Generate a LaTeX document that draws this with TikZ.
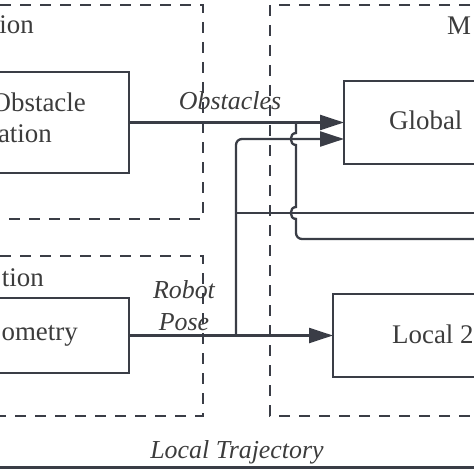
\documentclass[tikz,border=0pt]{standalone}
\usepackage{fontspec}
\setmainfont{Liberation Serif}
\usetikzlibrary{arrows.meta,calc}
\definecolor{lc}{HTML}{3A3D46}
\definecolor{tc}{HTML}{3C3C3C}
\begin{document}
\begin{tikzpicture}[x=1bp,y=-1bp,
  boxnode/.style={draw=lc,line width=2.4bp,inner sep=0,outer sep=0,anchor=north west},
  conn/.style={draw=lc,line width=2.3bp},
  arr/.style={-{Triangle[length=24bp,width=15bp]}},
  dashbox/.style={draw=lc,line width=2.2bp,dash pattern=on 11bp off 9bp},
  lbl/.style={text=tc,inner sep=0,font=\fontsize{27}{31}\selectfont},
  ilbl/.style={text=tc,inner sep=0,font=\fontsize{26}{31}\selectfont\itshape}]
\useasboundingbox (0,0) rectangle (474,474);
\clip (0,0) rectangle (474,474);
% dashed group frames
\draw[dashbox] (-20,5) -- (203,5) -- (203,219) -- (-20,219);
\draw[dashbox] (-20,256) -- (203,256) -- (203,416) -- (-20,416);
\draw[dashbox] (490,5) -- (270,5) -- (270,416) -- (490,416);
\node[lbl,anchor=base east] (tl) at (34,34) {ion};
\node[lbl,anchor=base east] (bl) at (44,286) {tion};
\node[lbl,anchor=base west] (rl) at (447,35) {M};
% boxes
\node[boxnode,minimum width=169bp,minimum height=101bp] (obs) at (-40,72) {};
\node[boxnode,minimum width=169bp,minimum height=75bp] (odom) at (-40,298) {};
\node[boxnode,minimum width=160bp,minimum height=83bp] (global) at (344,81) {};
\node[boxnode,minimum width=170bp,minimum height=83bp] (local) at (333,294) {};
\node[lbl,anchor=base east] (obs1) at (86,112) {Obstacle};
\node[lbl,anchor=base east] (obs2) at (52,143) {ation};
\node[lbl,anchor=base east] (odt) at (78,340) {ometry};
\node[lbl,anchor=base west] (glt) at (389,130) {Global};
\node[lbl,anchor=base west] (lct) at (392,343) {Local 2};
% connectors
\coordinate (j1) at (296,122.5);
\coordinate (j2) at (236,335.5);
\coordinate (j3) at (236,213);
\coordinate (r3) at (490,213);
\coordinate (r4) at (490,239);
\draw[conn,arr] (obs.east) -- (obs.east -| global.west);
\draw[conn,arr] (odom.east) -- (odom.east -| local.west);
\draw[conn,arr,rounded corners=6bp] (j2) |- ($(global.west)+(0,16.5)$);
\draw[conn] (j3) -- (r3);
\draw[conn] (j1) -- (296,133) .. controls (289,133) and (289,145) .. (296,145)
  -- (296,207) .. controls (289,207) and (289,219) .. (296,219);
\draw[conn,rounded corners=6bp] (296,218) |- (r4);
\node[ilbl,anchor=base] (obsl) at (230,110) {Obstacles};
\node[ilbl,anchor=base] (rp1) at (184,298) {Robot};
\node[ilbl,anchor=base] (rp2) at (184,330) {Pose};
% bottom trajectory line
\coordinate (b0) at (-10,467);
\coordinate (b1) at (490,467);
\draw[conn,line width=3bp] (b0) -- (b1);
\node[ilbl,anchor=base] (ltr) at (237,458) {Local Trajectory};
\end{tikzpicture}
\end{document}
